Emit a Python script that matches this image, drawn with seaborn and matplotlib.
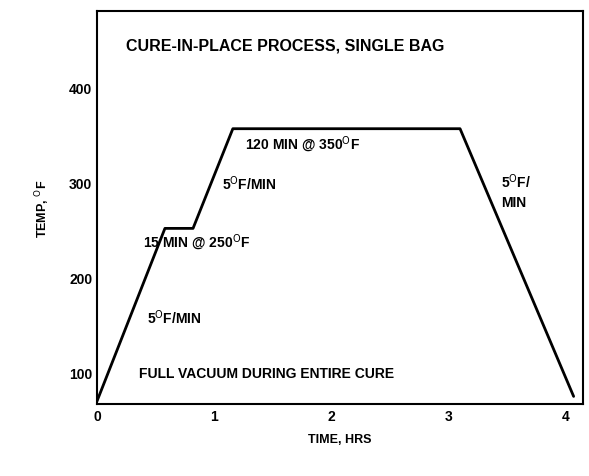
import matplotlib
matplotlib.use('Agg')
import matplotlib.pyplot as plt
import seaborn as sns
import pandas as pd

# cure cycle profile (hours, deg F)
time_hrs = [0.0, 0.58, 0.82, 1.16, 3.10, 4.07]
temp_f = [70, 252, 252, 357, 357, 75]

xticks = [0, 1, 2, 3, 4]
yticks = [100, 200, 300, 400]

sns.set_theme(style='white')
plt.rcParams['font.family'] = ['Liberation Sans', 'DejaVu Sans']
plt.rcParams['text.color'] = 'black'
plt.rcParams['axes.labelcolor'] = 'black'
plt.rcParams['xtick.color'] = 'black'
plt.rcParams['ytick.color'] = 'black'

fig = plt.figure(figsize=(5.89, 4.77), dpi=100)
ax = fig.add_axes([97/589, 72/477, 486/589, 393/477])

df = pd.DataFrame({'t': time_hrs, 'T': temp_f})
sns.lineplot(data=df, x='t', y='T', ax=ax, color='black', lw=2)

ax.set_xlim(0, 4.15)
ax.set_ylim(67, 481)
ax.set_xticks(xticks)
ax.set_yticks(yticks)
ax.tick_params(direction='in', length=4, labelsize=10, width=1.2)
for t in ax.get_xticklabels() + ax.get_yticklabels():
    t.set_fontweight('bold')
for s in ax.spines.values():
    s.set_color('black'); s.set_linewidth(1.5)
ax.set_xlabel('TIME, HRS', fontweight='bold', fontsize=9, labelpad=7)
ax.set_ylabel('TEMP, $^{\\mathrm{O}}$F', fontweight='bold', fontsize=9, labelpad=12)

kw = dict(fontweight='bold', fontsize=10, color='black')
ax.text(0.25, 440, 'CURE-IN-PLACE PROCESS, SINGLE BAG', fontsize=11.5, fontweight='bold', color='black')
ax.text(0.39, 233, '15 MIN @ 250$^{\\mathrm{O}}$F', **kw)
ax.text(0.43, 152, '5$^{\\mathrm{O}}$F/MIN', **kw)
ax.text(1.07, 293, '5$^{\\mathrm{O}}$F/MIN', **kw)
ax.text(1.26, 336, '120 MIN @ 350$^{\\mathrm{O}}$F', **kw)
ax.text(3.45, 296, '5$^{\\mathrm{O}}$F/', **kw)
ax.text(3.45, 276, 'MIN', **kw)
ax.text(0.36, 95, 'FULL VACUUM DURING ENTIRE CURE', **kw)

fig.savefig('out.png', dpi=100)
